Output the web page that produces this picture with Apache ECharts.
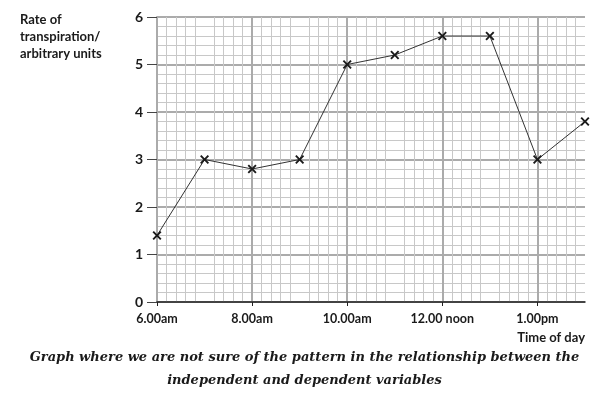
<!DOCTYPE html>
<html><head><meta charset="utf-8">
<script src="https://cdn.jsdelivr.net/npm/echarts@6/dist/echarts.min.js"></script>
<style>html,body{margin:0;padding:0;background:#fff}#c{width:609px;height:398px}</style>
</head><body><div id="c"></div>
<script>
const hours = [6, 7, 8, 9, 10, 11, 12, 13, 14, 15];
const rates = [1.4, 3.0, 2.8, 3.0, 5.0, 5.2, 5.6, 5.6, 3.0, 3.8];
const xTickValues = [6, 8, 10, 12, 14];
const xTickLabels = ['6.00am', '8.00am', '10.00am', '12.00 noon', '1.00pm'];
const yTickValues = [0, 1, 2, 3, 4, 5, 6];

const chart = echarts.init(document.getElementById('c'));
const labelFont = 'Lato, "Open Sans", sans-serif';
const crossPath = 'path://M1.5,0 L5,3.5 L8.5,0 L10,1.5 L6.5,5 L10,8.5 L8.5,10 L5,6.5 L1.5,10 L0,8.5 L3.5,5 L0,1.5 Z';
const captionFont = 'italic bold 13px "DejaVu Serif", serif';
chart.setOption({
  animation: false,
  backgroundColor: '#fff',
  grid: { left: 157, right: 24, top: 17, bottom: 96 },
  xAxis: {
    type: 'value', min: 6, max: 15, interval: 1,
    axisLine: { show: true, onZero: false, lineStyle: { color: '#222', width: 1.5 } },
    axisTick: { show: true, customValues: xTickValues, length: 4, lineStyle: { color: '#222' } },
    axisLabel: {
      customValues: xTickValues,
      formatter: v => xTickLabels[xTickValues.indexOf(v)] || '',
      color: '#1a1a1a', fontFamily: labelFont, fontWeight: 'bold', fontSize: 12.5, margin: 10
    },
    splitLine: { show: true, lineStyle: { color: '#ababab', width: 2 } },
    minorTick: { show: false, splitNumber: 5 },
    minorSplitLine: { show: true, lineStyle: { color: '#c8c8c8', width: 1 } }
  },
  yAxis: {
    type: 'value', min: 0, max: 6, interval: 1,
    axisLine: { show: true, lineStyle: { color: '#ababab', width: 2 } },
    axisTick: { show: true, length: 10, lineStyle: { color: '#444' } },
    axisLabel: {
      formatter: v => yTickValues.includes(v) ? String(v) : '',
      color: '#1a1a1a', fontFamily: labelFont, fontWeight: 'bold', fontSize: 14, margin: 14
    },
    splitLine: { show: true, lineStyle: { color: '#ababab', width: 2 } },
    minorTick: { show: false, splitNumber: 5 },
    minorSplitLine: { show: true, lineStyle: { color: '#c8c8c8', width: 1 } }
  },
  series: [{
    type: 'line',
    data: hours.map((h, i) => [h, rates[i]]),
    lineStyle: { color: '#333', width: 1 },
    itemStyle: { color: '#1a1a1a' },
    symbol: crossPath, symbolSize: 9,
    z: 5
  }],
  graphic: [
    { type: 'text', left: 20, top: 11, style: { text: 'Rate of\ntranspiration/\narbitrary units', fill: '#1a1a1a', font: 'bold 13px ' + labelFont, lineHeight: 17 } },
    { type: 'text', right: 24, top: 331, style: { text: 'Time of day', fill: '#1a1a1a', font: 'bold 13px ' + labelFont } },
    { type: 'text', left: 'center', top: 351, style: { text: 'Graph where we are not sure of the pattern in the relationship between the', fill: '#1a1a1a', font: captionFont } },
    { type: 'text', left: 'center', top: 374, style: { text: 'independent and dependent variables', fill: '#1a1a1a', font: captionFont } }
  ]
});
</script></body></html>
